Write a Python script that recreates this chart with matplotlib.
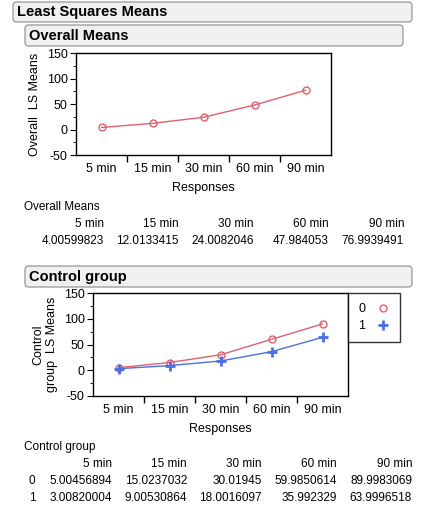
import matplotlib.pyplot as plt
from matplotlib.patches import FancyBboxPatch
from matplotlib.ticker import FixedLocator, NullFormatter

plt.rcParams['font.family'] = ['Liberation Sans', 'DejaVu Sans']
plt.rcParams['axes.unicode_minus'] = False

responses = ["5 min", "15 min", "30 min", "60 min", "90 min"]
overall_means = [4.00599823, 12.0133415, 24.0082046, 47.984053, 76.9939491]
group_levels = ["0", "1"]
group0_means = [5.00456894, 15.0237032, 30.01945, 59.9850614, 89.9983069]
group1_means = [3.00820004, 9.00530864, 18.0016097, 35.992329, 63.9996518]
overall_txt = ["4.00599823", "12.0133415", "24.0082046", "47.984053", "76.9939491"]
group0_txt = ["5.00456894", "15.0237032", "30.01945", "59.9850614", "89.9983069"]
group1_txt = ["3.00820004", "9.00530864", "18.0016097", "35.992329", "63.9996518"]

W, H = 436, 525
fig = plt.figure(figsize=(W / 100, H / 100), dpi=100)
red = "#e0606e"
blue = "#4a6ee6"


def txt(x, y, s, **kw):  # pixel coords from top-left
    fig.text(x / W, 1 - y / H, s, **kw)


def header(x0, y0, x1, y1, label):
    box = FancyBboxPatch((x0 / W, 1 - y1 / H), (x1 - x0) / W, (y1 - y0) / H,
                         boxstyle="round,pad=0,rounding_size=0.008",
                         transform=fig.transFigure, facecolor="#f0f0f0",
                         edgecolor="#a0a0a0", lw=1)
    fig.patches.append(box)
    txt(x0 + 4, (y0 + y1) / 2, label, fontsize=10.5, fontweight="bold", va="center")


def make_axes(left, top, width, height):
    return fig.add_axes([left / W, 1 - (top + height) / H, width / W, height / H])


def style_axes(ax):
    ax.set_xlim(0.5, 5.5)
    ax.set_ylim(-50, 150)
    ax.set_yticks([-50, 0, 50, 100, 150])
    ax.yaxis.set_minor_locator(FixedLocator([-25, 25, 75, 125]))
    ax.set_xticks(range(1, 6))
    ax.set_xticklabels(responses)
    ax.tick_params(axis="x", which="major", length=0, pad=6, labelsize=9)
    ax.xaxis.set_minor_locator(FixedLocator([1.5, 2.5, 3.5, 4.5]))
    ax.xaxis.set_minor_formatter(NullFormatter())
    ax.tick_params(axis="x", which="minor", length=5, width=1)
    ax.tick_params(axis="y", which="major", length=4, labelsize=9, pad=2)
    ax.tick_params(axis="y", which="minor", length=2)
    for sp in ax.spines.values():
        sp.set_linewidth(1)
    ax.set_xlabel("Responses", fontsize=9, labelpad=5)


header(13, 2, 412, 22, "Least Squares Means")
header(25, 25, 403, 46, "Overall Means")

ax1 = make_axes(76, 53, 255, 102)
x = range(1, 6)
ax1.plot(x, overall_means, color=red, lw=1, marker="o", ms=5, mfc="none", mec=red, mew=1)
style_axes(ax1)
ax1.set_ylabel("Overall  LS Means", fontsize=9, labelpad=4)

# overall means table
txt(24, 207, "Overall Means", fontsize=8.5, va="center")
cols1 = [104, 179, 254, 329, 404]
for cx, r, v in zip(cols1, responses, overall_txt):
    txt(cx, 224, r, fontsize=8.5, ha="right", va="center")
    txt(cx, 241, v, fontsize=8.5, ha="right", va="center")

header(25, 266, 412, 287, "Control group")

ax2 = make_axes(93, 293, 255, 103)
ax2.plot(x, group0_means, color=red, lw=1, marker="o", ms=5, mfc="none", mec=red, mew=1, label=group_levels[0])
ax2.plot(x, group1_means, color=blue, lw=1, marker="+", ms=7, mew=2, label=group_levels[1])
style_axes(ax2)
ax2.set_ylabel("Control\ngroup  LS Means", fontsize=9, labelpad=4)
leg = ax2.legend(loc="upper left", bbox_to_anchor=(1.0, 1.0), frameon=True, fancybox=False,
                 edgecolor="black", fontsize=9, markerfirst=False, handlelength=1.2,
                 borderaxespad=0, borderpad=0.8, labelspacing=0.4)
leg.get_frame().set_linewidth(1)
for h in leg.legend_handles:
    h.set_linestyle("none")

# control group table
txt(24, 447, "Control group", fontsize=8.5, va="center")
cols2 = [112, 187, 262, 337, 412]
for cx, r in zip(cols2, responses):
    txt(cx, 464, r, fontsize=8.5, ha="right", va="center")
for ry, lvl, vals in [(481, group_levels[0], group0_txt), (498, group_levels[1], group1_txt)]:
    txt(32, ry, lvl, fontsize=8.5, ha="center", va="center")
    for cx, v in zip(cols2, vals):
        txt(cx, ry, v, fontsize=8.5, ha="right", va="center")

fig.savefig("out.png", dpi=100)
